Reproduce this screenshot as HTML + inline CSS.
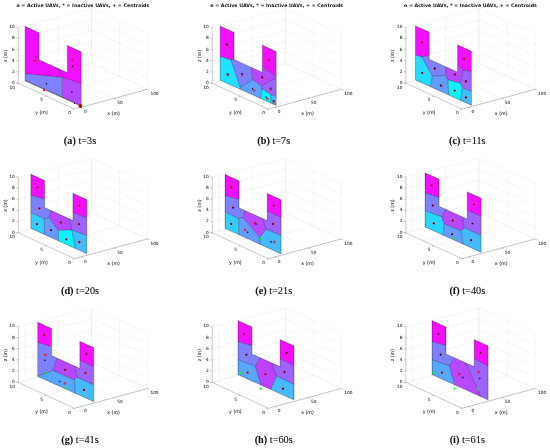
<!DOCTYPE html>
<html><head><meta charset="utf-8"><title>UAV coverage figure</title>
<style>
html,body{margin:0;padding:0;background:#fff;}
body{width:550px;height:448px;overflow:hidden;}
svg{display:block;}
.tk{font-family:"DejaVu Sans","Liberation Sans",sans-serif;fill:#2a2a2a;stroke:#2a2a2a;stroke-width:0.6px;}
.tt{font-family:"DejaVu Sans","Liberation Sans",sans-serif;font-weight:bold;fill:#111;}
.cp{font-family:"Liberation Serif","DejaVu Serif",serif;fill:#111;stroke:#111;stroke-width:0.9px;}
.cp tspan{font-weight:bold;stroke-width:0.6px;}
</style></head><body>
<svg width="550" height="448" viewBox="0 0 550 448">
<rect width="550" height="448" fill="#fff"/>
<g id="p0">
<line x1="18.30" y1="83.20" x2="91.50" y2="63.30" stroke="#ebebeb" stroke-width="0.5"/>
<line x1="91.50" y1="63.30" x2="147.60" y2="89.30" stroke="#ebebeb" stroke-width="0.5"/>
<line x1="18.30" y1="72.06" x2="91.50" y2="52.40" stroke="#ebebeb" stroke-width="0.5"/>
<line x1="91.50" y1="52.40" x2="147.60" y2="78.14" stroke="#ebebeb" stroke-width="0.5"/>
<line x1="18.30" y1="60.92" x2="91.50" y2="41.50" stroke="#ebebeb" stroke-width="0.5"/>
<line x1="91.50" y1="41.50" x2="147.60" y2="66.98" stroke="#ebebeb" stroke-width="0.5"/>
<line x1="18.30" y1="49.78" x2="91.50" y2="30.60" stroke="#ebebeb" stroke-width="0.5"/>
<line x1="91.50" y1="30.60" x2="147.60" y2="55.82" stroke="#ebebeb" stroke-width="0.5"/>
<line x1="18.30" y1="38.64" x2="91.50" y2="19.70" stroke="#ebebeb" stroke-width="0.5"/>
<line x1="91.50" y1="19.70" x2="147.60" y2="44.66" stroke="#ebebeb" stroke-width="0.5"/>
<line x1="18.30" y1="27.50" x2="91.50" y2="8.80" stroke="#ebebeb" stroke-width="0.5"/>
<line x1="91.50" y1="8.80" x2="147.60" y2="33.50" stroke="#ebebeb" stroke-width="0.5"/>
<line x1="24.95" y1="81.39" x2="24.95" y2="25.80" stroke="#ebebeb" stroke-width="0.5"/>
<line x1="24.95" y1="81.39" x2="81.15" y2="107.30" stroke="#ebebeb" stroke-width="0.5"/>
<line x1="58.23" y1="72.35" x2="58.23" y2="17.30" stroke="#ebebeb" stroke-width="0.5"/>
<line x1="58.23" y1="72.35" x2="114.37" y2="98.30" stroke="#ebebeb" stroke-width="0.5"/>
<line x1="91.50" y1="63.30" x2="91.50" y2="8.80" stroke="#ebebeb" stroke-width="0.5"/>
<line x1="91.50" y1="63.30" x2="147.60" y2="89.30" stroke="#ebebeb" stroke-width="0.5"/>
<line x1="147.60" y1="89.30" x2="147.60" y2="33.50" stroke="#ebebeb" stroke-width="0.5"/>
<line x1="74.50" y1="109.10" x2="147.60" y2="89.30" stroke="#ebebeb" stroke-width="0.5"/>
<line x1="119.55" y1="76.30" x2="119.55" y2="21.15" stroke="#ebebeb" stroke-width="0.5"/>
<line x1="46.40" y1="96.15" x2="119.55" y2="76.30" stroke="#ebebeb" stroke-width="0.5"/>
<line x1="91.50" y1="63.30" x2="91.50" y2="8.80" stroke="#ebebeb" stroke-width="0.5"/>
<line x1="18.30" y1="83.20" x2="91.50" y2="63.30" stroke="#ebebeb" stroke-width="0.5"/>
<line x1="18.30" y1="83.20" x2="18.30" y2="27.50" stroke="#949494" stroke-width="0.5"/>
<line x1="18.30" y1="83.20" x2="74.50" y2="109.10" stroke="#949494" stroke-width="0.5"/>
<line x1="74.50" y1="109.10" x2="147.60" y2="89.30" stroke="#949494" stroke-width="0.5"/>
<line x1="18.30" y1="83.20" x2="16.40" y2="82.70" stroke="#949494" stroke-width="0.5"/>
<text transform="translate(14.80,83.95) scale(0.1000,0.1)" font-size="43.0" text-anchor="end" class="tk">0</text>
<line x1="18.30" y1="72.06" x2="16.40" y2="71.56" stroke="#949494" stroke-width="0.5"/>
<text transform="translate(14.80,72.81) scale(0.1000,0.1)" font-size="43.0" text-anchor="end" class="tk">2</text>
<line x1="18.30" y1="60.92" x2="16.40" y2="60.42" stroke="#949494" stroke-width="0.5"/>
<text transform="translate(14.80,61.67) scale(0.1000,0.1)" font-size="43.0" text-anchor="end" class="tk">4</text>
<line x1="18.30" y1="49.78" x2="16.40" y2="49.28" stroke="#949494" stroke-width="0.5"/>
<text transform="translate(14.80,50.53) scale(0.1000,0.1)" font-size="43.0" text-anchor="end" class="tk">6</text>
<line x1="18.30" y1="38.64" x2="16.40" y2="38.14" stroke="#949494" stroke-width="0.5"/>
<text transform="translate(14.80,39.39) scale(0.1000,0.1)" font-size="43.0" text-anchor="end" class="tk">8</text>
<line x1="18.30" y1="27.50" x2="16.40" y2="27.00" stroke="#949494" stroke-width="0.5"/>
<text transform="translate(14.80,28.25) scale(0.1000,0.1)" font-size="43.0" text-anchor="end" class="tk">10</text>
<line x1="18.30" y1="83.20" x2="16.30" y2="83.75" stroke="#949494" stroke-width="0.5"/>
<text transform="translate(14.90,88.50) scale(0.1000,0.1)" font-size="43.0" text-anchor="end" class="tk">10</text>
<line x1="46.40" y1="96.15" x2="44.40" y2="96.70" stroke="#949494" stroke-width="0.5"/>
<text transform="translate(43.00,101.45) scale(0.1000,0.1)" font-size="43.0" text-anchor="end" class="tk">5</text>
<line x1="74.50" y1="109.10" x2="72.50" y2="109.65" stroke="#949494" stroke-width="0.5"/>
<text transform="translate(71.10,114.40) scale(0.1000,0.1)" font-size="43.0" text-anchor="end" class="tk">0</text>
<line x1="81.15" y1="107.30" x2="82.95" y2="108.15" stroke="#949494" stroke-width="0.5"/>
<text transform="translate(83.95,113.20) scale(0.1000,0.1)" font-size="43.0" text-anchor="start" class="tk">0</text>
<line x1="114.37" y1="98.30" x2="116.17" y2="99.15" stroke="#949494" stroke-width="0.5"/>
<text transform="translate(117.17,104.20) scale(0.1000,0.1)" font-size="43.0" text-anchor="start" class="tk">50</text>
<line x1="147.60" y1="89.30" x2="149.40" y2="90.15" stroke="#949494" stroke-width="0.5"/>
<text transform="translate(150.40,95.20) scale(0.1000,0.1)" font-size="43.0" text-anchor="start" class="tk">100</text>
<text transform="translate(41.50,113.90) scale(0.1000,0.1)" font-size="47.5" text-anchor="middle" class="tk">y (m)</text>
<text transform="translate(113.60,115.00) scale(0.1000,0.1)" font-size="47.5" text-anchor="middle" class="tk">x (m)</text>
<text transform="translate(6.60,55.90) rotate(-90) scale(0.1000,0.1)" font-size="47.5" text-anchor="middle" class="tk">z (m)</text>
<text transform="translate(82.85,7.00) scale(0.1000,0.1)" font-size="47.5" text-anchor="middle" class="tt">o = Active UAVs, * = Inactive UAVs, + = Centroids</text>
<clipPath id="u0"><polygon points="25.10,26.30 39.15,32.65 39.15,59.80 67.25,72.50 67.25,45.35 81.30,51.70 81.30,106.00 25.10,80.60"/></clipPath>
<g clip-path="url(#u0)">
<polygon points="25.10,26.30 39.15,32.65 39.15,59.80 58.50,68.55 62.40,77.40 25.10,73.80" fill="rgb(240,15,255)" stroke="#000" stroke-opacity="0.55" stroke-width="0.4" stroke-linejoin="round"/>
<polygon points="58.50,68.55 67.25,72.50 67.25,45.35 81.30,51.70 81.30,83.50 62.40,77.40" fill="rgb(240,15,255)" stroke="#000" stroke-opacity="0.55" stroke-width="0.4" stroke-linejoin="round"/>
<polygon points="25.10,73.80 62.40,77.40 62.40,97.46 25.10,80.60" fill="rgb(126,129,255)" stroke="#000" stroke-opacity="0.55" stroke-width="0.4" stroke-linejoin="round"/>
<polygon points="62.40,77.40 81.30,83.50 81.30,106.00 62.40,97.46" fill="rgb(183,72,255)" stroke="#000" stroke-opacity="0.55" stroke-width="0.4" stroke-linejoin="round"/>
</g>
<polygon points="25.10,26.30 39.15,32.65 39.15,59.80 67.25,72.50 67.25,45.35 81.30,51.70 81.30,106.00 25.10,80.60" fill="none" stroke="#000" stroke-opacity="0.55" stroke-width="0.4" stroke-linejoin="round"/>
<line x1="25.10" y1="80.60" x2="81.30" y2="106.00" stroke="#000" stroke-width="0.6" stroke-opacity="0.6"/>
<circle cx="35.9" cy="56.9" r="0.8" fill="#000"/>
<circle cx="34.7" cy="60.6" r="0.9" fill="none" stroke="#f00" stroke-width="0.9"/>
<circle cx="72.7" cy="66.4" r="0.8" fill="#000"/>
<circle cx="72.4" cy="59.8" r="0.9" fill="none" stroke="#f00" stroke-width="0.9"/>
<circle cx="46.5" cy="83.7" r="0.8" fill="#000"/>
<circle cx="44.0" cy="90.1" r="1.15" fill="#f00"/>
<circle cx="71.9" cy="92.0" r="0.8" fill="#000"/>
<circle cx="74.6" cy="103.5" r="0.55" fill="#000"/>
<circle cx="80.4" cy="105.9" r="1.9" fill="#f00"/><circle cx="80.4" cy="105.9" r="0.85" fill="#500"/>
<text transform="translate(80.00,144.30) scale(0.1060,0.1)" font-size="97.0" text-anchor="middle" class="cp"><tspan>(a)</tspan> t=3s</text>
</g>
<g id="p1">
<line x1="212.20" y1="83.20" x2="285.40" y2="63.30" stroke="#ebebeb" stroke-width="0.5"/>
<line x1="285.40" y1="63.30" x2="341.50" y2="89.30" stroke="#ebebeb" stroke-width="0.5"/>
<line x1="212.20" y1="72.06" x2="285.40" y2="52.40" stroke="#ebebeb" stroke-width="0.5"/>
<line x1="285.40" y1="52.40" x2="341.50" y2="78.14" stroke="#ebebeb" stroke-width="0.5"/>
<line x1="212.20" y1="60.92" x2="285.40" y2="41.50" stroke="#ebebeb" stroke-width="0.5"/>
<line x1="285.40" y1="41.50" x2="341.50" y2="66.98" stroke="#ebebeb" stroke-width="0.5"/>
<line x1="212.20" y1="49.78" x2="285.40" y2="30.60" stroke="#ebebeb" stroke-width="0.5"/>
<line x1="285.40" y1="30.60" x2="341.50" y2="55.82" stroke="#ebebeb" stroke-width="0.5"/>
<line x1="212.20" y1="38.64" x2="285.40" y2="19.70" stroke="#ebebeb" stroke-width="0.5"/>
<line x1="285.40" y1="19.70" x2="341.50" y2="44.66" stroke="#ebebeb" stroke-width="0.5"/>
<line x1="212.20" y1="27.50" x2="285.40" y2="8.80" stroke="#ebebeb" stroke-width="0.5"/>
<line x1="285.40" y1="8.80" x2="341.50" y2="33.50" stroke="#ebebeb" stroke-width="0.5"/>
<line x1="218.85" y1="81.39" x2="218.85" y2="25.80" stroke="#ebebeb" stroke-width="0.5"/>
<line x1="218.85" y1="81.39" x2="275.05" y2="107.30" stroke="#ebebeb" stroke-width="0.5"/>
<line x1="252.13" y1="72.35" x2="252.13" y2="17.30" stroke="#ebebeb" stroke-width="0.5"/>
<line x1="252.13" y1="72.35" x2="308.27" y2="98.30" stroke="#ebebeb" stroke-width="0.5"/>
<line x1="285.40" y1="63.30" x2="285.40" y2="8.80" stroke="#ebebeb" stroke-width="0.5"/>
<line x1="285.40" y1="63.30" x2="341.50" y2="89.30" stroke="#ebebeb" stroke-width="0.5"/>
<line x1="341.50" y1="89.30" x2="341.50" y2="33.50" stroke="#ebebeb" stroke-width="0.5"/>
<line x1="268.40" y1="109.10" x2="341.50" y2="89.30" stroke="#ebebeb" stroke-width="0.5"/>
<line x1="313.45" y1="76.30" x2="313.45" y2="21.15" stroke="#ebebeb" stroke-width="0.5"/>
<line x1="240.30" y1="96.15" x2="313.45" y2="76.30" stroke="#ebebeb" stroke-width="0.5"/>
<line x1="285.40" y1="63.30" x2="285.40" y2="8.80" stroke="#ebebeb" stroke-width="0.5"/>
<line x1="212.20" y1="83.20" x2="285.40" y2="63.30" stroke="#ebebeb" stroke-width="0.5"/>
<line x1="212.20" y1="83.20" x2="212.20" y2="27.50" stroke="#949494" stroke-width="0.5"/>
<line x1="212.20" y1="83.20" x2="268.40" y2="109.10" stroke="#949494" stroke-width="0.5"/>
<line x1="268.40" y1="109.10" x2="341.50" y2="89.30" stroke="#949494" stroke-width="0.5"/>
<line x1="212.20" y1="83.20" x2="210.30" y2="82.70" stroke="#949494" stroke-width="0.5"/>
<text transform="translate(208.70,83.95) scale(0.1000,0.1)" font-size="43.0" text-anchor="end" class="tk">0</text>
<line x1="212.20" y1="72.06" x2="210.30" y2="71.56" stroke="#949494" stroke-width="0.5"/>
<text transform="translate(208.70,72.81) scale(0.1000,0.1)" font-size="43.0" text-anchor="end" class="tk">2</text>
<line x1="212.20" y1="60.92" x2="210.30" y2="60.42" stroke="#949494" stroke-width="0.5"/>
<text transform="translate(208.70,61.67) scale(0.1000,0.1)" font-size="43.0" text-anchor="end" class="tk">4</text>
<line x1="212.20" y1="49.78" x2="210.30" y2="49.28" stroke="#949494" stroke-width="0.5"/>
<text transform="translate(208.70,50.53) scale(0.1000,0.1)" font-size="43.0" text-anchor="end" class="tk">6</text>
<line x1="212.20" y1="38.64" x2="210.30" y2="38.14" stroke="#949494" stroke-width="0.5"/>
<text transform="translate(208.70,39.39) scale(0.1000,0.1)" font-size="43.0" text-anchor="end" class="tk">8</text>
<line x1="212.20" y1="27.50" x2="210.30" y2="27.00" stroke="#949494" stroke-width="0.5"/>
<text transform="translate(208.70,28.25) scale(0.1000,0.1)" font-size="43.0" text-anchor="end" class="tk">10</text>
<line x1="212.20" y1="83.20" x2="210.20" y2="83.75" stroke="#949494" stroke-width="0.5"/>
<text transform="translate(208.80,88.50) scale(0.1000,0.1)" font-size="43.0" text-anchor="end" class="tk">10</text>
<line x1="240.30" y1="96.15" x2="238.30" y2="96.70" stroke="#949494" stroke-width="0.5"/>
<text transform="translate(236.90,101.45) scale(0.1000,0.1)" font-size="43.0" text-anchor="end" class="tk">5</text>
<line x1="268.40" y1="109.10" x2="266.40" y2="109.65" stroke="#949494" stroke-width="0.5"/>
<text transform="translate(265.00,114.40) scale(0.1000,0.1)" font-size="43.0" text-anchor="end" class="tk">0</text>
<line x1="275.05" y1="107.30" x2="276.85" y2="108.15" stroke="#949494" stroke-width="0.5"/>
<text transform="translate(277.85,113.20) scale(0.1000,0.1)" font-size="43.0" text-anchor="start" class="tk">0</text>
<line x1="308.27" y1="98.30" x2="310.07" y2="99.15" stroke="#949494" stroke-width="0.5"/>
<text transform="translate(311.07,104.20) scale(0.1000,0.1)" font-size="43.0" text-anchor="start" class="tk">50</text>
<line x1="341.50" y1="89.30" x2="343.30" y2="90.15" stroke="#949494" stroke-width="0.5"/>
<text transform="translate(344.30,95.20) scale(0.1000,0.1)" font-size="43.0" text-anchor="start" class="tk">100</text>
<text transform="translate(235.40,113.90) scale(0.1000,0.1)" font-size="47.5" text-anchor="middle" class="tk">y (m)</text>
<text transform="translate(307.50,115.00) scale(0.1000,0.1)" font-size="47.5" text-anchor="middle" class="tk">x (m)</text>
<text transform="translate(200.50,55.90) rotate(-90) scale(0.1000,0.1)" font-size="47.5" text-anchor="middle" class="tk">z (m)</text>
<text transform="translate(276.75,7.00) scale(0.1000,0.1)" font-size="47.5" text-anchor="middle" class="tt">o = Active UAVs, * = Inactive UAVs, + = Centroids</text>
<clipPath id="u1"><polygon points="220.10,26.00 234.15,32.35 234.15,59.50 262.25,72.20 262.25,45.05 276.30,51.40 276.30,105.70 220.10,80.30"/></clipPath>
<g clip-path="url(#u1)">
<polygon points="220.10,26.00 234.15,32.35 234.15,59.50 231.20,60.10 220.10,56.60" fill="rgb(240,15,255)" stroke="#000" stroke-opacity="0.55" stroke-width="0.4" stroke-linejoin="round"/>
<polygon points="220.10,56.60 231.20,60.10 240.30,87.20 240.50,89.52 220.10,80.30" fill="rgb(31,224,255)" stroke="#000" stroke-opacity="0.55" stroke-width="0.4" stroke-linejoin="round"/>
<polygon points="231.20,60.10 234.15,59.50 251.20,67.21 252.80,79.50 240.30,87.20" fill="rgb(126,129,255)" stroke="#000" stroke-opacity="0.55" stroke-width="0.4" stroke-linejoin="round"/>
<polygon points="240.30,87.20 252.80,79.50 261.40,85.90 262.10,88.90 260.60,98.61 240.50,89.52" fill="rgb(94,161,255)" stroke="#000" stroke-opacity="0.55" stroke-width="0.4" stroke-linejoin="round"/>
<polygon points="251.20,67.21 262.25,72.20 262.25,66.40 276.30,75.60 276.30,78.00 261.40,85.90 252.80,79.50" fill="rgb(183,72,255)" stroke="#000" stroke-opacity="0.55" stroke-width="0.4" stroke-linejoin="round"/>
<polygon points="262.25,66.40 262.25,45.05 276.30,51.40 276.30,75.60" fill="rgb(240,15,255)" stroke="#000" stroke-opacity="0.55" stroke-width="0.4" stroke-linejoin="round"/>
<polygon points="261.40,85.90 276.30,78.00 276.30,96.10 271.20,95.00 262.10,88.90" fill="rgb(156,99,255)" stroke="#000" stroke-opacity="0.55" stroke-width="0.4" stroke-linejoin="round"/>
<polygon points="262.10,88.90 271.20,95.00 270.60,103.13 260.60,98.61" fill="rgb(13,242,255)" stroke="#000" stroke-opacity="0.55" stroke-width="0.4" stroke-linejoin="round"/>
<polygon points="271.20,95.00 276.30,96.10 276.30,105.70 270.60,103.13" fill="rgb(69,186,255)" stroke="#000" stroke-opacity="0.55" stroke-width="0.4" stroke-linejoin="round"/>
</g>
<polygon points="220.10,26.00 234.15,32.35 234.15,59.50 262.25,72.20 262.25,45.05 276.30,51.40 276.30,105.70 220.10,80.30" fill="none" stroke="#000" stroke-opacity="0.55" stroke-width="0.4" stroke-linejoin="round"/>
<circle cx="226.8" cy="44.9" r="0.95" fill="none" stroke="#f00" stroke-width="0.8"/><circle cx="226.9" cy="44.4" r="0.8" fill="#000"/>
<circle cx="227.70000000000002" cy="74.8" r="0.95" fill="none" stroke="#f00" stroke-width="0.8"/><circle cx="227.9" cy="74.2" r="0.8" fill="#000"/>
<circle cx="242.20000000000002" cy="74.89999999999999" r="0.95" fill="none" stroke="#f00" stroke-width="0.8"/><circle cx="241.9" cy="73.8" r="0.8" fill="#000"/>
<circle cx="262.2" cy="77.7" r="0.95" fill="none" stroke="#f00" stroke-width="0.8"/><circle cx="262.2" cy="77.0" r="0.8" fill="#000"/>
<circle cx="269.0" cy="60.1" r="1.15" fill="#f00"/><circle cx="269.0" cy="60.1" r="0.7" fill="#000"/>
<circle cx="254.29999999999998" cy="90.6" r="0.95" fill="none" stroke="#f00" stroke-width="0.8"/><circle cx="252.6" cy="89.0" r="0.8" fill="#000"/>
<circle cx="270.6" cy="89.60000000000001" r="0.95" fill="none" stroke="#f00" stroke-width="0.8"/><circle cx="270.6" cy="88.2" r="0.8" fill="#000"/>
<circle cx="267.4" cy="98.8" r="0.95" fill="none" stroke="#f00" stroke-width="0.8"/><circle cx="266.0" cy="97.0" r="0.8" fill="#000"/>
<circle cx="273.8" cy="102.10000000000001" r="0.95" fill="none" stroke="#f00" stroke-width="0.8"/><circle cx="273.5" cy="100.7" r="0.8" fill="#000"/>
<text transform="translate(273.70,144.30) scale(0.1060,0.1)" font-size="97.0" text-anchor="middle" class="cp"><tspan>(b)</tspan> t=7s</text>
</g>
<g id="p2">
<line x1="405.90" y1="83.20" x2="479.10" y2="63.30" stroke="#ebebeb" stroke-width="0.5"/>
<line x1="479.10" y1="63.30" x2="535.20" y2="89.30" stroke="#ebebeb" stroke-width="0.5"/>
<line x1="405.90" y1="72.06" x2="479.10" y2="52.40" stroke="#ebebeb" stroke-width="0.5"/>
<line x1="479.10" y1="52.40" x2="535.20" y2="78.14" stroke="#ebebeb" stroke-width="0.5"/>
<line x1="405.90" y1="60.92" x2="479.10" y2="41.50" stroke="#ebebeb" stroke-width="0.5"/>
<line x1="479.10" y1="41.50" x2="535.20" y2="66.98" stroke="#ebebeb" stroke-width="0.5"/>
<line x1="405.90" y1="49.78" x2="479.10" y2="30.60" stroke="#ebebeb" stroke-width="0.5"/>
<line x1="479.10" y1="30.60" x2="535.20" y2="55.82" stroke="#ebebeb" stroke-width="0.5"/>
<line x1="405.90" y1="38.64" x2="479.10" y2="19.70" stroke="#ebebeb" stroke-width="0.5"/>
<line x1="479.10" y1="19.70" x2="535.20" y2="44.66" stroke="#ebebeb" stroke-width="0.5"/>
<line x1="405.90" y1="27.50" x2="479.10" y2="8.80" stroke="#ebebeb" stroke-width="0.5"/>
<line x1="479.10" y1="8.80" x2="535.20" y2="33.50" stroke="#ebebeb" stroke-width="0.5"/>
<line x1="412.55" y1="81.39" x2="412.55" y2="25.80" stroke="#ebebeb" stroke-width="0.5"/>
<line x1="412.55" y1="81.39" x2="468.75" y2="107.30" stroke="#ebebeb" stroke-width="0.5"/>
<line x1="445.83" y1="72.35" x2="445.83" y2="17.30" stroke="#ebebeb" stroke-width="0.5"/>
<line x1="445.83" y1="72.35" x2="501.97" y2="98.30" stroke="#ebebeb" stroke-width="0.5"/>
<line x1="479.10" y1="63.30" x2="479.10" y2="8.80" stroke="#ebebeb" stroke-width="0.5"/>
<line x1="479.10" y1="63.30" x2="535.20" y2="89.30" stroke="#ebebeb" stroke-width="0.5"/>
<line x1="535.20" y1="89.30" x2="535.20" y2="33.50" stroke="#ebebeb" stroke-width="0.5"/>
<line x1="462.10" y1="109.10" x2="535.20" y2="89.30" stroke="#ebebeb" stroke-width="0.5"/>
<line x1="507.15" y1="76.30" x2="507.15" y2="21.15" stroke="#ebebeb" stroke-width="0.5"/>
<line x1="434.00" y1="96.15" x2="507.15" y2="76.30" stroke="#ebebeb" stroke-width="0.5"/>
<line x1="479.10" y1="63.30" x2="479.10" y2="8.80" stroke="#ebebeb" stroke-width="0.5"/>
<line x1="405.90" y1="83.20" x2="479.10" y2="63.30" stroke="#ebebeb" stroke-width="0.5"/>
<line x1="405.90" y1="83.20" x2="405.90" y2="27.50" stroke="#949494" stroke-width="0.5"/>
<line x1="405.90" y1="83.20" x2="462.10" y2="109.10" stroke="#949494" stroke-width="0.5"/>
<line x1="462.10" y1="109.10" x2="535.20" y2="89.30" stroke="#949494" stroke-width="0.5"/>
<line x1="405.90" y1="83.20" x2="404.00" y2="82.70" stroke="#949494" stroke-width="0.5"/>
<text transform="translate(402.40,83.95) scale(0.1000,0.1)" font-size="43.0" text-anchor="end" class="tk">0</text>
<line x1="405.90" y1="72.06" x2="404.00" y2="71.56" stroke="#949494" stroke-width="0.5"/>
<text transform="translate(402.40,72.81) scale(0.1000,0.1)" font-size="43.0" text-anchor="end" class="tk">2</text>
<line x1="405.90" y1="60.92" x2="404.00" y2="60.42" stroke="#949494" stroke-width="0.5"/>
<text transform="translate(402.40,61.67) scale(0.1000,0.1)" font-size="43.0" text-anchor="end" class="tk">4</text>
<line x1="405.90" y1="49.78" x2="404.00" y2="49.28" stroke="#949494" stroke-width="0.5"/>
<text transform="translate(402.40,50.53) scale(0.1000,0.1)" font-size="43.0" text-anchor="end" class="tk">6</text>
<line x1="405.90" y1="38.64" x2="404.00" y2="38.14" stroke="#949494" stroke-width="0.5"/>
<text transform="translate(402.40,39.39) scale(0.1000,0.1)" font-size="43.0" text-anchor="end" class="tk">8</text>
<line x1="405.90" y1="27.50" x2="404.00" y2="27.00" stroke="#949494" stroke-width="0.5"/>
<text transform="translate(402.40,28.25) scale(0.1000,0.1)" font-size="43.0" text-anchor="end" class="tk">10</text>
<line x1="405.90" y1="83.20" x2="403.90" y2="83.75" stroke="#949494" stroke-width="0.5"/>
<text transform="translate(402.50,88.50) scale(0.1000,0.1)" font-size="43.0" text-anchor="end" class="tk">10</text>
<line x1="434.00" y1="96.15" x2="432.00" y2="96.70" stroke="#949494" stroke-width="0.5"/>
<text transform="translate(430.60,101.45) scale(0.1000,0.1)" font-size="43.0" text-anchor="end" class="tk">5</text>
<line x1="462.10" y1="109.10" x2="460.10" y2="109.65" stroke="#949494" stroke-width="0.5"/>
<text transform="translate(458.70,114.40) scale(0.1000,0.1)" font-size="43.0" text-anchor="end" class="tk">0</text>
<line x1="468.75" y1="107.30" x2="470.55" y2="108.15" stroke="#949494" stroke-width="0.5"/>
<text transform="translate(471.55,113.20) scale(0.1000,0.1)" font-size="43.0" text-anchor="start" class="tk">0</text>
<line x1="501.97" y1="98.30" x2="503.77" y2="99.15" stroke="#949494" stroke-width="0.5"/>
<text transform="translate(504.77,104.20) scale(0.1000,0.1)" font-size="43.0" text-anchor="start" class="tk">50</text>
<line x1="535.20" y1="89.30" x2="537.00" y2="90.15" stroke="#949494" stroke-width="0.5"/>
<text transform="translate(538.00,95.20) scale(0.1000,0.1)" font-size="43.0" text-anchor="start" class="tk">100</text>
<text transform="translate(429.10,113.90) scale(0.1000,0.1)" font-size="47.5" text-anchor="middle" class="tk">y (m)</text>
<text transform="translate(501.20,115.00) scale(0.1000,0.1)" font-size="47.5" text-anchor="middle" class="tk">x (m)</text>
<text transform="translate(394.20,55.90) rotate(-90) scale(0.1000,0.1)" font-size="47.5" text-anchor="middle" class="tk">z (m)</text>
<text transform="translate(470.45,7.00) scale(0.1000,0.1)" font-size="47.5" text-anchor="middle" class="tt">o = Active UAVs, * = Inactive UAVs, + = Centroids</text>
<clipPath id="u2"><polygon points="415.30,25.70 429.35,32.05 429.35,59.20 457.45,71.90 457.45,44.75 471.50,51.10 471.50,105.40 415.30,80.00"/></clipPath>
<g clip-path="url(#u2)">
<polygon points="415.30,25.70 429.35,32.05 429.35,55.60 421.90,56.90 415.30,55.00" fill="rgb(240,15,255)" stroke="#000" stroke-opacity="0.55" stroke-width="0.4" stroke-linejoin="round"/>
<polygon points="415.30,55.00 421.90,56.90 432.50,76.20 430.40,86.83 415.30,80.00" fill="rgb(35,220,255)" stroke="#000" stroke-opacity="0.55" stroke-width="0.4" stroke-linejoin="round"/>
<polygon points="421.90,56.90 429.35,55.60 429.35,59.20 445.60,66.55 446.25,75.60 432.50,76.20" fill="rgb(126,129,255)" stroke="#000" stroke-opacity="0.55" stroke-width="0.4" stroke-linejoin="round"/>
<polygon points="432.50,76.20 446.25,75.60 448.10,80.00 448.75,95.12 430.40,86.83" fill="rgb(99,156,255)" stroke="#000" stroke-opacity="0.55" stroke-width="0.4" stroke-linejoin="round"/>
<polygon points="445.60,66.55 457.45,71.90 457.45,65.00 463.75,70.00 460.00,83.10 448.10,80.00 446.25,75.60" fill="rgb(183,72,255)" stroke="#000" stroke-opacity="0.55" stroke-width="0.4" stroke-linejoin="round"/>
<polygon points="457.45,65.00 457.45,44.75 471.50,51.10 471.50,71.90 463.75,70.00" fill="rgb(240,15,255)" stroke="#000" stroke-opacity="0.55" stroke-width="0.4" stroke-linejoin="round"/>
<polygon points="463.75,70.00 471.50,71.90 471.50,91.30 462.50,88.10 460.00,83.10" fill="rgb(156,99,255)" stroke="#000" stroke-opacity="0.55" stroke-width="0.4" stroke-linejoin="round"/>
<polygon points="448.10,80.00 460.00,83.10 462.50,88.10 460.60,100.48 448.75,95.12" fill="rgb(13,242,255)" stroke="#000" stroke-opacity="0.55" stroke-width="0.4" stroke-linejoin="round"/>
<polygon points="462.50,88.10 471.50,91.30 471.50,105.40 460.60,100.48" fill="rgb(69,186,255)" stroke="#000" stroke-opacity="0.55" stroke-width="0.4" stroke-linejoin="round"/>
</g>
<polygon points="415.30,25.70 429.35,32.05 429.35,59.20 457.45,71.90 457.45,44.75 471.50,51.10 471.50,105.40 415.30,80.00" fill="none" stroke="#000" stroke-opacity="0.55" stroke-width="0.4" stroke-linejoin="round"/>
<circle cx="421.8" cy="42.6" r="1.15" fill="#f00"/><circle cx="421.8" cy="42.6" r="0.7" fill="#000"/>
<circle cx="422.2" cy="72.9" r="1.15" fill="#f00"/><circle cx="422.2" cy="72.9" r="0.7" fill="#000"/>
<circle cx="435.0" cy="68.7" r="0.95" fill="none" stroke="#f00" stroke-width="0.8"/><circle cx="434.6" cy="68.3" r="0.8" fill="#000"/>
<circle cx="454.59999999999997" cy="74.7" r="0.95" fill="none" stroke="#f00" stroke-width="0.8"/><circle cx="455.2" cy="74.4" r="0.8" fill="#000"/>
<circle cx="464.0" cy="58.8" r="1.15" fill="#f00"/><circle cx="464.0" cy="58.8" r="0.7" fill="#000"/>
<circle cx="465.9" cy="81.8" r="0.95" fill="none" stroke="#f00" stroke-width="0.8"/><circle cx="465.9" cy="81.0" r="0.8" fill="#000"/>
<circle cx="441.1" cy="85.8" r="0.95" fill="none" stroke="#f00" stroke-width="0.8"/><circle cx="440.6" cy="85.3" r="0.8" fill="#000"/>
<circle cx="454.7" cy="90.6" r="1.15" fill="#f00"/><circle cx="454.7" cy="90.6" r="0.7" fill="#000"/>
<circle cx="465.9" cy="97.5" r="1.15" fill="#f00"/><circle cx="465.9" cy="97.5" r="0.7" fill="#000"/>
<text transform="translate(467.30,144.30) scale(0.1060,0.1)" font-size="97.0" text-anchor="middle" class="cp"><tspan>(c)</tspan> t=11s</text>
</g>
<g id="p3">
<line x1="18.30" y1="232.80" x2="91.50" y2="212.90" stroke="#ebebeb" stroke-width="0.5"/>
<line x1="91.50" y1="212.90" x2="147.60" y2="238.90" stroke="#ebebeb" stroke-width="0.5"/>
<line x1="18.30" y1="221.66" x2="91.50" y2="202.00" stroke="#ebebeb" stroke-width="0.5"/>
<line x1="91.50" y1="202.00" x2="147.60" y2="227.74" stroke="#ebebeb" stroke-width="0.5"/>
<line x1="18.30" y1="210.52" x2="91.50" y2="191.10" stroke="#ebebeb" stroke-width="0.5"/>
<line x1="91.50" y1="191.10" x2="147.60" y2="216.58" stroke="#ebebeb" stroke-width="0.5"/>
<line x1="18.30" y1="199.38" x2="91.50" y2="180.20" stroke="#ebebeb" stroke-width="0.5"/>
<line x1="91.50" y1="180.20" x2="147.60" y2="205.42" stroke="#ebebeb" stroke-width="0.5"/>
<line x1="18.30" y1="188.24" x2="91.50" y2="169.30" stroke="#ebebeb" stroke-width="0.5"/>
<line x1="91.50" y1="169.30" x2="147.60" y2="194.26" stroke="#ebebeb" stroke-width="0.5"/>
<line x1="18.30" y1="177.10" x2="91.50" y2="158.40" stroke="#ebebeb" stroke-width="0.5"/>
<line x1="91.50" y1="158.40" x2="147.60" y2="183.10" stroke="#ebebeb" stroke-width="0.5"/>
<line x1="24.95" y1="230.99" x2="24.95" y2="175.40" stroke="#ebebeb" stroke-width="0.5"/>
<line x1="24.95" y1="230.99" x2="81.15" y2="256.90" stroke="#ebebeb" stroke-width="0.5"/>
<line x1="58.23" y1="221.95" x2="58.23" y2="166.90" stroke="#ebebeb" stroke-width="0.5"/>
<line x1="58.23" y1="221.95" x2="114.37" y2="247.90" stroke="#ebebeb" stroke-width="0.5"/>
<line x1="91.50" y1="212.90" x2="91.50" y2="158.40" stroke="#ebebeb" stroke-width="0.5"/>
<line x1="91.50" y1="212.90" x2="147.60" y2="238.90" stroke="#ebebeb" stroke-width="0.5"/>
<line x1="147.60" y1="238.90" x2="147.60" y2="183.10" stroke="#ebebeb" stroke-width="0.5"/>
<line x1="74.50" y1="258.70" x2="147.60" y2="238.90" stroke="#ebebeb" stroke-width="0.5"/>
<line x1="119.55" y1="225.90" x2="119.55" y2="170.75" stroke="#ebebeb" stroke-width="0.5"/>
<line x1="46.40" y1="245.75" x2="119.55" y2="225.90" stroke="#ebebeb" stroke-width="0.5"/>
<line x1="91.50" y1="212.90" x2="91.50" y2="158.40" stroke="#ebebeb" stroke-width="0.5"/>
<line x1="18.30" y1="232.80" x2="91.50" y2="212.90" stroke="#ebebeb" stroke-width="0.5"/>
<line x1="18.30" y1="232.80" x2="18.30" y2="177.10" stroke="#949494" stroke-width="0.5"/>
<line x1="18.30" y1="232.80" x2="74.50" y2="258.70" stroke="#949494" stroke-width="0.5"/>
<line x1="74.50" y1="258.70" x2="147.60" y2="238.90" stroke="#949494" stroke-width="0.5"/>
<line x1="18.30" y1="232.80" x2="16.40" y2="232.30" stroke="#949494" stroke-width="0.5"/>
<text transform="translate(14.80,233.55) scale(0.1000,0.1)" font-size="43.0" text-anchor="end" class="tk">0</text>
<line x1="18.30" y1="221.66" x2="16.40" y2="221.16" stroke="#949494" stroke-width="0.5"/>
<text transform="translate(14.80,222.41) scale(0.1000,0.1)" font-size="43.0" text-anchor="end" class="tk">2</text>
<line x1="18.30" y1="210.52" x2="16.40" y2="210.02" stroke="#949494" stroke-width="0.5"/>
<text transform="translate(14.80,211.27) scale(0.1000,0.1)" font-size="43.0" text-anchor="end" class="tk">4</text>
<line x1="18.30" y1="199.38" x2="16.40" y2="198.88" stroke="#949494" stroke-width="0.5"/>
<text transform="translate(14.80,200.13) scale(0.1000,0.1)" font-size="43.0" text-anchor="end" class="tk">6</text>
<line x1="18.30" y1="188.24" x2="16.40" y2="187.74" stroke="#949494" stroke-width="0.5"/>
<text transform="translate(14.80,188.99) scale(0.1000,0.1)" font-size="43.0" text-anchor="end" class="tk">8</text>
<line x1="18.30" y1="177.10" x2="16.40" y2="176.60" stroke="#949494" stroke-width="0.5"/>
<text transform="translate(14.80,177.85) scale(0.1000,0.1)" font-size="43.0" text-anchor="end" class="tk">10</text>
<line x1="18.30" y1="232.80" x2="16.30" y2="233.35" stroke="#949494" stroke-width="0.5"/>
<text transform="translate(14.90,238.10) scale(0.1000,0.1)" font-size="43.0" text-anchor="end" class="tk">10</text>
<line x1="46.40" y1="245.75" x2="44.40" y2="246.30" stroke="#949494" stroke-width="0.5"/>
<text transform="translate(43.00,251.05) scale(0.1000,0.1)" font-size="43.0" text-anchor="end" class="tk">5</text>
<line x1="74.50" y1="258.70" x2="72.50" y2="259.25" stroke="#949494" stroke-width="0.5"/>
<text transform="translate(71.10,264.00) scale(0.1000,0.1)" font-size="43.0" text-anchor="end" class="tk">0</text>
<line x1="81.15" y1="256.90" x2="82.95" y2="257.75" stroke="#949494" stroke-width="0.5"/>
<text transform="translate(83.95,262.80) scale(0.1000,0.1)" font-size="43.0" text-anchor="start" class="tk">0</text>
<line x1="114.37" y1="247.90" x2="116.17" y2="248.75" stroke="#949494" stroke-width="0.5"/>
<text transform="translate(117.17,253.80) scale(0.1000,0.1)" font-size="43.0" text-anchor="start" class="tk">50</text>
<line x1="147.60" y1="238.90" x2="149.40" y2="239.75" stroke="#949494" stroke-width="0.5"/>
<text transform="translate(150.40,244.80) scale(0.1000,0.1)" font-size="43.0" text-anchor="start" class="tk">100</text>
<text transform="translate(41.50,263.50) scale(0.1000,0.1)" font-size="47.5" text-anchor="middle" class="tk">y (m)</text>
<text transform="translate(113.60,264.60) scale(0.1000,0.1)" font-size="47.5" text-anchor="middle" class="tk">x (m)</text>
<text transform="translate(6.60,205.50) rotate(-90) scale(0.1000,0.1)" font-size="47.5" text-anchor="middle" class="tk">z (m)</text>
<clipPath id="u3"><polygon points="30.70,174.10 44.75,180.45 44.75,207.60 72.85,220.30 72.85,193.15 86.90,199.50 86.90,253.80 30.70,228.40"/></clipPath>
<g clip-path="url(#u3)">
<polygon points="30.70,174.10 44.75,180.45 44.75,199.30 30.70,195.30" fill="rgb(240,15,255)" stroke="#000" stroke-opacity="0.55" stroke-width="0.4" stroke-linejoin="round"/>
<polygon points="30.70,195.30 44.75,199.30 44.75,207.60 51.25,210.54 49.40,217.50 44.40,219.00 30.70,212.60" fill="rgb(126,129,255)" stroke="#000" stroke-opacity="0.55" stroke-width="0.4" stroke-linejoin="round"/>
<polygon points="30.70,212.60 44.40,219.00 44.40,234.59 30.70,228.40" fill="rgb(49,206,255)" stroke="#000" stroke-opacity="0.55" stroke-width="0.4" stroke-linejoin="round"/>
<polygon points="44.40,219.00 49.40,217.50 58.50,230.60 58.50,240.97 44.40,234.59" fill="rgb(104,151,255)" stroke="#000" stroke-opacity="0.55" stroke-width="0.4" stroke-linejoin="round"/>
<polygon points="51.25,210.54 70.00,219.01 71.90,230.00 58.50,230.60 49.40,217.50" fill="rgb(183,72,255)" stroke="#000" stroke-opacity="0.55" stroke-width="0.4" stroke-linejoin="round"/>
<polygon points="70.00,219.01 72.85,220.30 72.85,212.40 86.90,217.60 86.90,235.60 71.90,230.00" fill="rgb(156,99,255)" stroke="#000" stroke-opacity="0.55" stroke-width="0.4" stroke-linejoin="round"/>
<polygon points="72.85,212.40 72.85,193.15 86.90,199.50 86.90,217.60" fill="rgb(240,15,255)" stroke="#000" stroke-opacity="0.55" stroke-width="0.4" stroke-linejoin="round"/>
<polygon points="58.50,230.60 71.90,230.00 75.60,248.69 58.50,240.97" fill="rgb(13,242,255)" stroke="#000" stroke-opacity="0.55" stroke-width="0.4" stroke-linejoin="round"/>
<polygon points="71.90,230.00 86.90,235.60 86.90,253.80 75.60,248.69" fill="rgb(69,186,255)" stroke="#000" stroke-opacity="0.55" stroke-width="0.4" stroke-linejoin="round"/>
</g>
<polygon points="30.70,174.10 44.75,180.45 44.75,207.60 72.85,220.30 72.85,193.15 86.90,199.50 86.90,253.80 30.70,228.40" fill="none" stroke="#000" stroke-opacity="0.55" stroke-width="0.4" stroke-linejoin="round"/>
<circle cx="37.3" cy="187.5" r="1.15" fill="#f00"/><circle cx="37.3" cy="187.5" r="0.7" fill="#000"/>
<circle cx="39.4" cy="208.4" r="1.15" fill="#f00"/><circle cx="39.4" cy="208.4" r="0.7" fill="#000"/>
<circle cx="36.9" cy="224.1" r="1.15" fill="#f00"/><circle cx="36.9" cy="224.1" r="0.7" fill="#000"/>
<circle cx="51.0" cy="230.2" r="1.15" fill="#f00"/><circle cx="51.0" cy="230.2" r="0.7" fill="#000"/>
<circle cx="61.0" cy="222.5" r="1.15" fill="#f00"/><circle cx="61.0" cy="222.5" r="0.7" fill="#000"/>
<circle cx="66.2" cy="239.4" r="1.15" fill="#f00"/><circle cx="66.2" cy="239.4" r="0.7" fill="#000"/>
<circle cx="79.0" cy="224.1" r="1.15" fill="#f00"/><circle cx="79.0" cy="224.1" r="0.7" fill="#000"/>
<circle cx="79.4" cy="205.6" r="1.15" fill="#f00"/><circle cx="79.4" cy="205.6" r="0.7" fill="#000"/>
<circle cx="79.4" cy="242.2" r="1.15" fill="#f00"/><circle cx="79.4" cy="242.2" r="0.7" fill="#000"/>
<text transform="translate(80.00,294.20) scale(0.1060,0.1)" font-size="97.0" text-anchor="middle" class="cp"><tspan>(d)</tspan> t=20s</text>
</g>
<g id="p4">
<line x1="212.20" y1="232.80" x2="285.40" y2="212.90" stroke="#ebebeb" stroke-width="0.5"/>
<line x1="285.40" y1="212.90" x2="341.50" y2="238.90" stroke="#ebebeb" stroke-width="0.5"/>
<line x1="212.20" y1="221.66" x2="285.40" y2="202.00" stroke="#ebebeb" stroke-width="0.5"/>
<line x1="285.40" y1="202.00" x2="341.50" y2="227.74" stroke="#ebebeb" stroke-width="0.5"/>
<line x1="212.20" y1="210.52" x2="285.40" y2="191.10" stroke="#ebebeb" stroke-width="0.5"/>
<line x1="285.40" y1="191.10" x2="341.50" y2="216.58" stroke="#ebebeb" stroke-width="0.5"/>
<line x1="212.20" y1="199.38" x2="285.40" y2="180.20" stroke="#ebebeb" stroke-width="0.5"/>
<line x1="285.40" y1="180.20" x2="341.50" y2="205.42" stroke="#ebebeb" stroke-width="0.5"/>
<line x1="212.20" y1="188.24" x2="285.40" y2="169.30" stroke="#ebebeb" stroke-width="0.5"/>
<line x1="285.40" y1="169.30" x2="341.50" y2="194.26" stroke="#ebebeb" stroke-width="0.5"/>
<line x1="212.20" y1="177.10" x2="285.40" y2="158.40" stroke="#ebebeb" stroke-width="0.5"/>
<line x1="285.40" y1="158.40" x2="341.50" y2="183.10" stroke="#ebebeb" stroke-width="0.5"/>
<line x1="218.85" y1="230.99" x2="218.85" y2="175.40" stroke="#ebebeb" stroke-width="0.5"/>
<line x1="218.85" y1="230.99" x2="275.05" y2="256.90" stroke="#ebebeb" stroke-width="0.5"/>
<line x1="252.13" y1="221.95" x2="252.13" y2="166.90" stroke="#ebebeb" stroke-width="0.5"/>
<line x1="252.13" y1="221.95" x2="308.27" y2="247.90" stroke="#ebebeb" stroke-width="0.5"/>
<line x1="285.40" y1="212.90" x2="285.40" y2="158.40" stroke="#ebebeb" stroke-width="0.5"/>
<line x1="285.40" y1="212.90" x2="341.50" y2="238.90" stroke="#ebebeb" stroke-width="0.5"/>
<line x1="341.50" y1="238.90" x2="341.50" y2="183.10" stroke="#ebebeb" stroke-width="0.5"/>
<line x1="268.40" y1="258.70" x2="341.50" y2="238.90" stroke="#ebebeb" stroke-width="0.5"/>
<line x1="313.45" y1="225.90" x2="313.45" y2="170.75" stroke="#ebebeb" stroke-width="0.5"/>
<line x1="240.30" y1="245.75" x2="313.45" y2="225.90" stroke="#ebebeb" stroke-width="0.5"/>
<line x1="285.40" y1="212.90" x2="285.40" y2="158.40" stroke="#ebebeb" stroke-width="0.5"/>
<line x1="212.20" y1="232.80" x2="285.40" y2="212.90" stroke="#ebebeb" stroke-width="0.5"/>
<line x1="212.20" y1="232.80" x2="212.20" y2="177.10" stroke="#949494" stroke-width="0.5"/>
<line x1="212.20" y1="232.80" x2="268.40" y2="258.70" stroke="#949494" stroke-width="0.5"/>
<line x1="268.40" y1="258.70" x2="341.50" y2="238.90" stroke="#949494" stroke-width="0.5"/>
<line x1="212.20" y1="232.80" x2="210.30" y2="232.30" stroke="#949494" stroke-width="0.5"/>
<text transform="translate(208.70,233.55) scale(0.1000,0.1)" font-size="43.0" text-anchor="end" class="tk">0</text>
<line x1="212.20" y1="221.66" x2="210.30" y2="221.16" stroke="#949494" stroke-width="0.5"/>
<text transform="translate(208.70,222.41) scale(0.1000,0.1)" font-size="43.0" text-anchor="end" class="tk">2</text>
<line x1="212.20" y1="210.52" x2="210.30" y2="210.02" stroke="#949494" stroke-width="0.5"/>
<text transform="translate(208.70,211.27) scale(0.1000,0.1)" font-size="43.0" text-anchor="end" class="tk">4</text>
<line x1="212.20" y1="199.38" x2="210.30" y2="198.88" stroke="#949494" stroke-width="0.5"/>
<text transform="translate(208.70,200.13) scale(0.1000,0.1)" font-size="43.0" text-anchor="end" class="tk">6</text>
<line x1="212.20" y1="188.24" x2="210.30" y2="187.74" stroke="#949494" stroke-width="0.5"/>
<text transform="translate(208.70,188.99) scale(0.1000,0.1)" font-size="43.0" text-anchor="end" class="tk">8</text>
<line x1="212.20" y1="177.10" x2="210.30" y2="176.60" stroke="#949494" stroke-width="0.5"/>
<text transform="translate(208.70,177.85) scale(0.1000,0.1)" font-size="43.0" text-anchor="end" class="tk">10</text>
<line x1="212.20" y1="232.80" x2="210.20" y2="233.35" stroke="#949494" stroke-width="0.5"/>
<text transform="translate(208.80,238.10) scale(0.1000,0.1)" font-size="43.0" text-anchor="end" class="tk">10</text>
<line x1="240.30" y1="245.75" x2="238.30" y2="246.30" stroke="#949494" stroke-width="0.5"/>
<text transform="translate(236.90,251.05) scale(0.1000,0.1)" font-size="43.0" text-anchor="end" class="tk">5</text>
<line x1="268.40" y1="258.70" x2="266.40" y2="259.25" stroke="#949494" stroke-width="0.5"/>
<text transform="translate(265.00,264.00) scale(0.1000,0.1)" font-size="43.0" text-anchor="end" class="tk">0</text>
<line x1="275.05" y1="256.90" x2="276.85" y2="257.75" stroke="#949494" stroke-width="0.5"/>
<text transform="translate(277.85,262.80) scale(0.1000,0.1)" font-size="43.0" text-anchor="start" class="tk">0</text>
<line x1="308.27" y1="247.90" x2="310.07" y2="248.75" stroke="#949494" stroke-width="0.5"/>
<text transform="translate(311.07,253.80) scale(0.1000,0.1)" font-size="43.0" text-anchor="start" class="tk">50</text>
<line x1="341.50" y1="238.90" x2="343.30" y2="239.75" stroke="#949494" stroke-width="0.5"/>
<text transform="translate(344.30,244.80) scale(0.1000,0.1)" font-size="43.0" text-anchor="start" class="tk">100</text>
<text transform="translate(235.40,263.50) scale(0.1000,0.1)" font-size="47.5" text-anchor="middle" class="tk">y (m)</text>
<text transform="translate(307.50,264.60) scale(0.1000,0.1)" font-size="47.5" text-anchor="middle" class="tk">x (m)</text>
<text transform="translate(200.50,205.50) rotate(-90) scale(0.1000,0.1)" font-size="47.5" text-anchor="middle" class="tk">z (m)</text>
<clipPath id="u4"><polygon points="225.00,174.30 239.05,180.65 239.05,207.80 267.15,220.50 267.15,193.35 281.20,199.70 281.20,254.00 225.00,228.60"/></clipPath>
<g clip-path="url(#u4)">
<polygon points="225.00,174.30 239.05,180.65 239.05,199.50 225.00,195.60" fill="rgb(240,15,255)" stroke="#000" stroke-opacity="0.55" stroke-width="0.4" stroke-linejoin="round"/>
<polygon points="225.00,195.60 239.05,199.50 239.05,207.80 245.00,210.49 243.10,217.40 238.75,218.75 225.00,211.90" fill="rgb(126,129,255)" stroke="#000" stroke-opacity="0.55" stroke-width="0.4" stroke-linejoin="round"/>
<polygon points="225.00,211.90 238.75,218.75 238.75,234.82 225.00,228.60" fill="rgb(49,206,255)" stroke="#000" stroke-opacity="0.55" stroke-width="0.4" stroke-linejoin="round"/>
<polygon points="238.75,218.75 243.10,217.40 260.00,237.50 260.25,244.53 238.75,234.82" fill="rgb(99,156,255)" stroke="#000" stroke-opacity="0.55" stroke-width="0.4" stroke-linejoin="round"/>
<polygon points="245.00,210.49 263.10,218.67 266.00,229.40 260.00,237.50 243.10,217.40" fill="rgb(183,72,255)" stroke="#000" stroke-opacity="0.55" stroke-width="0.4" stroke-linejoin="round"/>
<polygon points="263.10,218.67 267.15,220.50 267.15,210.80 281.20,217.40 281.20,235.60 266.00,229.40" fill="rgb(156,99,255)" stroke="#000" stroke-opacity="0.55" stroke-width="0.4" stroke-linejoin="round"/>
<polygon points="267.15,210.80 267.15,193.35 281.20,199.70 281.20,217.40" fill="rgb(240,15,255)" stroke="#000" stroke-opacity="0.55" stroke-width="0.4" stroke-linejoin="round"/>
<polygon points="266.00,229.40 281.20,235.60 281.20,254.00 260.25,244.53 260.00,237.50" fill="rgb(69,186,255)" stroke="#000" stroke-opacity="0.55" stroke-width="0.4" stroke-linejoin="round"/>
</g>
<polygon points="225.00,174.30 239.05,180.65 239.05,207.80 267.15,220.50 267.15,193.35 281.20,199.70 281.20,254.00 225.00,228.60" fill="none" stroke="#000" stroke-opacity="0.55" stroke-width="0.4" stroke-linejoin="round"/>
<circle cx="231.5" cy="187.5" r="1.15" fill="#f00"/><circle cx="231.5" cy="187.5" r="0.7" fill="#000"/>
<circle cx="233.1" cy="207.7" r="1.15" fill="#f00"/><circle cx="233.1" cy="207.7" r="0.7" fill="#000"/>
<circle cx="231.2" cy="224.0" r="1.15" fill="#f00"/><circle cx="231.2" cy="224.0" r="0.7" fill="#000"/>
<circle cx="255.0" cy="222.9" r="0.9" fill="none" stroke="#f00" stroke-width="0.9"/>
<circle cx="256.0" cy="224.0" r="0.8" fill="#000"/>
<circle cx="245.0" cy="230.0" r="0.9" fill="none" stroke="#f00" stroke-width="0.9"/>
<circle cx="247.7" cy="232.2" r="0.8" fill="#000"/>
<circle cx="273.1" cy="224.0" r="1.15" fill="#f00"/><circle cx="273.1" cy="224.0" r="0.7" fill="#000"/>
<circle cx="273.7" cy="205.6" r="1.15" fill="#f00"/><circle cx="273.7" cy="205.6" r="0.7" fill="#000"/>
<circle cx="274.4" cy="241.9" r="0.9" fill="none" stroke="#f00" stroke-width="0.9"/>
<circle cx="271.0" cy="241.9" r="0.8" fill="#000"/>
<circle cx="260.25" cy="239.0" r="1.05" fill="#0f0"/>
<text transform="translate(273.70,294.20) scale(0.1060,0.1)" font-size="97.0" text-anchor="middle" class="cp"><tspan>(e)</tspan> t=21s</text>
</g>
<g id="p5">
<line x1="405.90" y1="232.80" x2="479.10" y2="212.90" stroke="#ebebeb" stroke-width="0.5"/>
<line x1="479.10" y1="212.90" x2="535.20" y2="238.90" stroke="#ebebeb" stroke-width="0.5"/>
<line x1="405.90" y1="221.66" x2="479.10" y2="202.00" stroke="#ebebeb" stroke-width="0.5"/>
<line x1="479.10" y1="202.00" x2="535.20" y2="227.74" stroke="#ebebeb" stroke-width="0.5"/>
<line x1="405.90" y1="210.52" x2="479.10" y2="191.10" stroke="#ebebeb" stroke-width="0.5"/>
<line x1="479.10" y1="191.10" x2="535.20" y2="216.58" stroke="#ebebeb" stroke-width="0.5"/>
<line x1="405.90" y1="199.38" x2="479.10" y2="180.20" stroke="#ebebeb" stroke-width="0.5"/>
<line x1="479.10" y1="180.20" x2="535.20" y2="205.42" stroke="#ebebeb" stroke-width="0.5"/>
<line x1="405.90" y1="188.24" x2="479.10" y2="169.30" stroke="#ebebeb" stroke-width="0.5"/>
<line x1="479.10" y1="169.30" x2="535.20" y2="194.26" stroke="#ebebeb" stroke-width="0.5"/>
<line x1="405.90" y1="177.10" x2="479.10" y2="158.40" stroke="#ebebeb" stroke-width="0.5"/>
<line x1="479.10" y1="158.40" x2="535.20" y2="183.10" stroke="#ebebeb" stroke-width="0.5"/>
<line x1="412.55" y1="230.99" x2="412.55" y2="175.40" stroke="#ebebeb" stroke-width="0.5"/>
<line x1="412.55" y1="230.99" x2="468.75" y2="256.90" stroke="#ebebeb" stroke-width="0.5"/>
<line x1="445.83" y1="221.95" x2="445.83" y2="166.90" stroke="#ebebeb" stroke-width="0.5"/>
<line x1="445.83" y1="221.95" x2="501.97" y2="247.90" stroke="#ebebeb" stroke-width="0.5"/>
<line x1="479.10" y1="212.90" x2="479.10" y2="158.40" stroke="#ebebeb" stroke-width="0.5"/>
<line x1="479.10" y1="212.90" x2="535.20" y2="238.90" stroke="#ebebeb" stroke-width="0.5"/>
<line x1="535.20" y1="238.90" x2="535.20" y2="183.10" stroke="#ebebeb" stroke-width="0.5"/>
<line x1="462.10" y1="258.70" x2="535.20" y2="238.90" stroke="#ebebeb" stroke-width="0.5"/>
<line x1="507.15" y1="225.90" x2="507.15" y2="170.75" stroke="#ebebeb" stroke-width="0.5"/>
<line x1="434.00" y1="245.75" x2="507.15" y2="225.90" stroke="#ebebeb" stroke-width="0.5"/>
<line x1="479.10" y1="212.90" x2="479.10" y2="158.40" stroke="#ebebeb" stroke-width="0.5"/>
<line x1="405.90" y1="232.80" x2="479.10" y2="212.90" stroke="#ebebeb" stroke-width="0.5"/>
<line x1="405.90" y1="232.80" x2="405.90" y2="177.10" stroke="#949494" stroke-width="0.5"/>
<line x1="405.90" y1="232.80" x2="462.10" y2="258.70" stroke="#949494" stroke-width="0.5"/>
<line x1="462.10" y1="258.70" x2="535.20" y2="238.90" stroke="#949494" stroke-width="0.5"/>
<line x1="405.90" y1="232.80" x2="404.00" y2="232.30" stroke="#949494" stroke-width="0.5"/>
<text transform="translate(402.40,233.55) scale(0.1000,0.1)" font-size="43.0" text-anchor="end" class="tk">0</text>
<line x1="405.90" y1="221.66" x2="404.00" y2="221.16" stroke="#949494" stroke-width="0.5"/>
<text transform="translate(402.40,222.41) scale(0.1000,0.1)" font-size="43.0" text-anchor="end" class="tk">2</text>
<line x1="405.90" y1="210.52" x2="404.00" y2="210.02" stroke="#949494" stroke-width="0.5"/>
<text transform="translate(402.40,211.27) scale(0.1000,0.1)" font-size="43.0" text-anchor="end" class="tk">4</text>
<line x1="405.90" y1="199.38" x2="404.00" y2="198.88" stroke="#949494" stroke-width="0.5"/>
<text transform="translate(402.40,200.13) scale(0.1000,0.1)" font-size="43.0" text-anchor="end" class="tk">6</text>
<line x1="405.90" y1="188.24" x2="404.00" y2="187.74" stroke="#949494" stroke-width="0.5"/>
<text transform="translate(402.40,188.99) scale(0.1000,0.1)" font-size="43.0" text-anchor="end" class="tk">8</text>
<line x1="405.90" y1="177.10" x2="404.00" y2="176.60" stroke="#949494" stroke-width="0.5"/>
<text transform="translate(402.40,177.85) scale(0.1000,0.1)" font-size="43.0" text-anchor="end" class="tk">10</text>
<line x1="405.90" y1="232.80" x2="403.90" y2="233.35" stroke="#949494" stroke-width="0.5"/>
<text transform="translate(402.50,238.10) scale(0.1000,0.1)" font-size="43.0" text-anchor="end" class="tk">10</text>
<line x1="434.00" y1="245.75" x2="432.00" y2="246.30" stroke="#949494" stroke-width="0.5"/>
<text transform="translate(430.60,251.05) scale(0.1000,0.1)" font-size="43.0" text-anchor="end" class="tk">5</text>
<line x1="462.10" y1="258.70" x2="460.10" y2="259.25" stroke="#949494" stroke-width="0.5"/>
<text transform="translate(458.70,264.00) scale(0.1000,0.1)" font-size="43.0" text-anchor="end" class="tk">0</text>
<line x1="468.75" y1="256.90" x2="470.55" y2="257.75" stroke="#949494" stroke-width="0.5"/>
<text transform="translate(471.55,262.80) scale(0.1000,0.1)" font-size="43.0" text-anchor="start" class="tk">0</text>
<line x1="501.97" y1="247.90" x2="503.77" y2="248.75" stroke="#949494" stroke-width="0.5"/>
<text transform="translate(504.77,253.80) scale(0.1000,0.1)" font-size="43.0" text-anchor="start" class="tk">50</text>
<line x1="535.20" y1="238.90" x2="537.00" y2="239.75" stroke="#949494" stroke-width="0.5"/>
<text transform="translate(538.00,244.80) scale(0.1000,0.1)" font-size="43.0" text-anchor="start" class="tk">100</text>
<text transform="translate(429.10,263.50) scale(0.1000,0.1)" font-size="47.5" text-anchor="middle" class="tk">y (m)</text>
<text transform="translate(501.20,264.60) scale(0.1000,0.1)" font-size="47.5" text-anchor="middle" class="tk">x (m)</text>
<text transform="translate(394.20,205.50) rotate(-90) scale(0.1000,0.1)" font-size="47.5" text-anchor="middle" class="tk">z (m)</text>
<clipPath id="u5"><polygon points="425.00,172.70 439.05,179.05 439.05,206.20 467.15,218.90 467.15,191.75 481.20,198.10 481.20,252.40 425.00,227.00"/></clipPath>
<g clip-path="url(#u5)">
<polygon points="425.00,172.70 439.05,179.05 439.05,197.80 425.00,192.70" fill="rgb(240,15,255)" stroke="#000" stroke-opacity="0.55" stroke-width="0.4" stroke-linejoin="round"/>
<polygon points="425.00,192.70 439.05,197.80 439.05,206.20 445.60,209.16 441.90,216.70 425.00,211.10" fill="rgb(126,129,255)" stroke="#000" stroke-opacity="0.55" stroke-width="0.4" stroke-linejoin="round"/>
<polygon points="425.00,211.10 441.90,216.70 444.30,224.10 443.10,235.18 425.00,227.00" fill="rgb(40,215,255)" stroke="#000" stroke-opacity="0.55" stroke-width="0.4" stroke-linejoin="round"/>
<polygon points="445.60,209.16 462.50,216.80 464.40,228.00 461.25,230.75 444.30,224.10 441.90,216.70" fill="rgb(183,72,255)" stroke="#000" stroke-opacity="0.55" stroke-width="0.4" stroke-linejoin="round"/>
<polygon points="444.30,224.10 461.25,230.75 463.10,244.22 443.10,235.18" fill="rgb(99,156,255)" stroke="#000" stroke-opacity="0.55" stroke-width="0.4" stroke-linejoin="round"/>
<polygon points="462.50,216.80 467.15,218.90 467.15,210.00 481.20,216.10 481.20,235.50 464.40,228.00" fill="rgb(156,99,255)" stroke="#000" stroke-opacity="0.55" stroke-width="0.4" stroke-linejoin="round"/>
<polygon points="467.15,210.00 467.15,191.75 481.20,198.10 481.20,216.10" fill="rgb(240,15,255)" stroke="#000" stroke-opacity="0.55" stroke-width="0.4" stroke-linejoin="round"/>
<polygon points="464.40,228.00 481.20,235.50 481.20,252.40 463.10,244.22 461.25,230.75" fill="rgb(69,186,255)" stroke="#000" stroke-opacity="0.55" stroke-width="0.4" stroke-linejoin="round"/>
</g>
<polygon points="425.00,172.70 439.05,179.05 439.05,206.20 467.15,218.90 467.15,191.75 481.20,198.10 481.20,252.40 425.00,227.00" fill="none" stroke="#000" stroke-opacity="0.55" stroke-width="0.4" stroke-linejoin="round"/>
<circle cx="431.5" cy="185.5" r="1.15" fill="#f00"/><circle cx="431.5" cy="185.5" r="0.7" fill="#000"/>
<circle cx="432.7" cy="205.5" r="1.15" fill="#f00"/><circle cx="432.7" cy="205.5" r="0.7" fill="#000"/>
<circle cx="433.7" cy="223.4" r="1.15" fill="#f00"/><circle cx="433.7" cy="223.4" r="0.7" fill="#000"/>
<circle cx="452.7" cy="220.5" r="1.15" fill="#f00"/><circle cx="452.7" cy="220.5" r="0.7" fill="#000"/>
<circle cx="452.2" cy="234.2" r="1.15" fill="#f00"/><circle cx="452.2" cy="234.2" r="0.7" fill="#000"/>
<circle cx="454.1" cy="238.6" r="1.05" fill="#0f0"/>
<circle cx="472.5" cy="223.6" r="1.15" fill="#f00"/><circle cx="472.5" cy="223.6" r="0.7" fill="#000"/>
<circle cx="473.7" cy="204.5" r="1.15" fill="#f00"/><circle cx="473.7" cy="204.5" r="0.7" fill="#000"/>
<circle cx="471.0" cy="240.2" r="1.15" fill="#f00"/><circle cx="471.0" cy="240.2" r="0.7" fill="#000"/>
<text transform="translate(467.30,294.20) scale(0.1060,0.1)" font-size="97.0" text-anchor="middle" class="cp"><tspan>(f)</tspan> t=40s</text>
</g>
<g id="p6">
<line x1="18.30" y1="382.40" x2="91.50" y2="362.50" stroke="#ebebeb" stroke-width="0.5"/>
<line x1="91.50" y1="362.50" x2="147.60" y2="388.50" stroke="#ebebeb" stroke-width="0.5"/>
<line x1="18.30" y1="371.26" x2="91.50" y2="351.60" stroke="#ebebeb" stroke-width="0.5"/>
<line x1="91.50" y1="351.60" x2="147.60" y2="377.34" stroke="#ebebeb" stroke-width="0.5"/>
<line x1="18.30" y1="360.12" x2="91.50" y2="340.70" stroke="#ebebeb" stroke-width="0.5"/>
<line x1="91.50" y1="340.70" x2="147.60" y2="366.18" stroke="#ebebeb" stroke-width="0.5"/>
<line x1="18.30" y1="348.98" x2="91.50" y2="329.80" stroke="#ebebeb" stroke-width="0.5"/>
<line x1="91.50" y1="329.80" x2="147.60" y2="355.02" stroke="#ebebeb" stroke-width="0.5"/>
<line x1="18.30" y1="337.84" x2="91.50" y2="318.90" stroke="#ebebeb" stroke-width="0.5"/>
<line x1="91.50" y1="318.90" x2="147.60" y2="343.86" stroke="#ebebeb" stroke-width="0.5"/>
<line x1="18.30" y1="326.70" x2="91.50" y2="308.00" stroke="#ebebeb" stroke-width="0.5"/>
<line x1="91.50" y1="308.00" x2="147.60" y2="332.70" stroke="#ebebeb" stroke-width="0.5"/>
<line x1="24.95" y1="380.59" x2="24.95" y2="325.00" stroke="#ebebeb" stroke-width="0.5"/>
<line x1="24.95" y1="380.59" x2="81.15" y2="406.50" stroke="#ebebeb" stroke-width="0.5"/>
<line x1="58.23" y1="371.55" x2="58.23" y2="316.50" stroke="#ebebeb" stroke-width="0.5"/>
<line x1="58.23" y1="371.55" x2="114.37" y2="397.50" stroke="#ebebeb" stroke-width="0.5"/>
<line x1="91.50" y1="362.50" x2="91.50" y2="308.00" stroke="#ebebeb" stroke-width="0.5"/>
<line x1="91.50" y1="362.50" x2="147.60" y2="388.50" stroke="#ebebeb" stroke-width="0.5"/>
<line x1="147.60" y1="388.50" x2="147.60" y2="332.70" stroke="#ebebeb" stroke-width="0.5"/>
<line x1="74.50" y1="408.30" x2="147.60" y2="388.50" stroke="#ebebeb" stroke-width="0.5"/>
<line x1="119.55" y1="375.50" x2="119.55" y2="320.35" stroke="#ebebeb" stroke-width="0.5"/>
<line x1="46.40" y1="395.35" x2="119.55" y2="375.50" stroke="#ebebeb" stroke-width="0.5"/>
<line x1="91.50" y1="362.50" x2="91.50" y2="308.00" stroke="#ebebeb" stroke-width="0.5"/>
<line x1="18.30" y1="382.40" x2="91.50" y2="362.50" stroke="#ebebeb" stroke-width="0.5"/>
<line x1="18.30" y1="382.40" x2="18.30" y2="326.70" stroke="#949494" stroke-width="0.5"/>
<line x1="18.30" y1="382.40" x2="74.50" y2="408.30" stroke="#949494" stroke-width="0.5"/>
<line x1="74.50" y1="408.30" x2="147.60" y2="388.50" stroke="#949494" stroke-width="0.5"/>
<line x1="18.30" y1="382.40" x2="16.40" y2="381.90" stroke="#949494" stroke-width="0.5"/>
<text transform="translate(14.80,383.15) scale(0.1000,0.1)" font-size="43.0" text-anchor="end" class="tk">0</text>
<line x1="18.30" y1="371.26" x2="16.40" y2="370.76" stroke="#949494" stroke-width="0.5"/>
<text transform="translate(14.80,372.01) scale(0.1000,0.1)" font-size="43.0" text-anchor="end" class="tk">2</text>
<line x1="18.30" y1="360.12" x2="16.40" y2="359.62" stroke="#949494" stroke-width="0.5"/>
<text transform="translate(14.80,360.87) scale(0.1000,0.1)" font-size="43.0" text-anchor="end" class="tk">4</text>
<line x1="18.30" y1="348.98" x2="16.40" y2="348.48" stroke="#949494" stroke-width="0.5"/>
<text transform="translate(14.80,349.73) scale(0.1000,0.1)" font-size="43.0" text-anchor="end" class="tk">6</text>
<line x1="18.30" y1="337.84" x2="16.40" y2="337.34" stroke="#949494" stroke-width="0.5"/>
<text transform="translate(14.80,338.59) scale(0.1000,0.1)" font-size="43.0" text-anchor="end" class="tk">8</text>
<line x1="18.30" y1="326.70" x2="16.40" y2="326.20" stroke="#949494" stroke-width="0.5"/>
<text transform="translate(14.80,327.45) scale(0.1000,0.1)" font-size="43.0" text-anchor="end" class="tk">10</text>
<line x1="18.30" y1="382.40" x2="16.30" y2="382.95" stroke="#949494" stroke-width="0.5"/>
<text transform="translate(14.90,387.70) scale(0.1000,0.1)" font-size="43.0" text-anchor="end" class="tk">10</text>
<line x1="46.40" y1="395.35" x2="44.40" y2="395.90" stroke="#949494" stroke-width="0.5"/>
<text transform="translate(43.00,400.65) scale(0.1000,0.1)" font-size="43.0" text-anchor="end" class="tk">5</text>
<line x1="74.50" y1="408.30" x2="72.50" y2="408.85" stroke="#949494" stroke-width="0.5"/>
<text transform="translate(71.10,413.60) scale(0.1000,0.1)" font-size="43.0" text-anchor="end" class="tk">0</text>
<line x1="81.15" y1="406.50" x2="82.95" y2="407.35" stroke="#949494" stroke-width="0.5"/>
<text transform="translate(83.95,412.40) scale(0.1000,0.1)" font-size="43.0" text-anchor="start" class="tk">0</text>
<line x1="114.37" y1="397.50" x2="116.17" y2="398.35" stroke="#949494" stroke-width="0.5"/>
<text transform="translate(117.17,403.40) scale(0.1000,0.1)" font-size="43.0" text-anchor="start" class="tk">50</text>
<line x1="147.60" y1="388.50" x2="149.40" y2="389.35" stroke="#949494" stroke-width="0.5"/>
<text transform="translate(150.40,394.40) scale(0.1000,0.1)" font-size="43.0" text-anchor="start" class="tk">100</text>
<text transform="translate(41.50,413.10) scale(0.1000,0.1)" font-size="47.5" text-anchor="middle" class="tk">y (m)</text>
<text transform="translate(113.60,414.20) scale(0.1000,0.1)" font-size="47.5" text-anchor="middle" class="tk">x (m)</text>
<text transform="translate(6.60,355.10) rotate(-90) scale(0.1000,0.1)" font-size="47.5" text-anchor="middle" class="tk">z (m)</text>
<clipPath id="u6"><polygon points="37.60,322.10 51.65,328.45 51.65,355.60 79.75,368.30 79.75,341.15 93.80,347.50 93.80,401.80 37.60,376.40"/></clipPath>
<g clip-path="url(#u6)">
<polygon points="37.60,322.10 51.65,328.45 51.65,347.00 37.60,342.40" fill="rgb(240,15,255)" stroke="#000" stroke-opacity="0.55" stroke-width="0.4" stroke-linejoin="round"/>
<polygon points="37.60,342.40 51.65,347.00 51.65,355.60 57.00,358.02 53.50,370.50 37.60,376.40" fill="rgb(126,129,255)" stroke="#000" stroke-opacity="0.55" stroke-width="0.4" stroke-linejoin="round"/>
<polygon points="37.60,376.40 53.50,370.50 74.50,379.90 75.50,393.53" fill="rgb(88,167,255)" stroke="#000" stroke-opacity="0.55" stroke-width="0.4" stroke-linejoin="round"/>
<polygon points="57.00,358.02 75.10,366.20 77.00,377.40 74.50,379.90 53.50,370.50" fill="rgb(183,72,255)" stroke="#000" stroke-opacity="0.55" stroke-width="0.4" stroke-linejoin="round"/>
<polygon points="75.10,366.20 79.75,368.30 79.75,360.10 93.80,366.50 93.80,384.90 77.00,377.40" fill="rgb(156,99,255)" stroke="#000" stroke-opacity="0.55" stroke-width="0.4" stroke-linejoin="round"/>
<polygon points="79.75,360.10 79.75,341.15 93.80,347.50 93.80,366.50" fill="rgb(240,15,255)" stroke="#000" stroke-opacity="0.55" stroke-width="0.4" stroke-linejoin="round"/>
<polygon points="77.00,377.40 93.80,384.90 93.80,401.80 75.50,393.53 74.50,379.90" fill="rgb(69,186,255)" stroke="#000" stroke-opacity="0.55" stroke-width="0.4" stroke-linejoin="round"/>
</g>
<polygon points="37.60,322.10 51.65,328.45 51.65,355.60 79.75,368.30 79.75,341.15 93.80,347.50 93.80,401.80 37.60,376.40" fill="none" stroke="#000" stroke-opacity="0.55" stroke-width="0.4" stroke-linejoin="round"/>
<circle cx="44.2" cy="334.9" r="1.15" fill="#f00"/><circle cx="44.2" cy="334.9" r="0.7" fill="#000"/>
<circle cx="45.4" cy="354.9" r="0.9" fill="none" stroke="#f00" stroke-width="0.9"/>
<circle cx="44.9" cy="360.2" r="0.8" fill="#000"/>
<circle cx="46.6" cy="373.0" r="1.05" fill="#0f0"/>
<circle cx="65.1" cy="369.9" r="1.15" fill="#f00"/><circle cx="65.1" cy="369.9" r="0.7" fill="#000"/>
<circle cx="59.7" cy="381.5" r="0.8" fill="#000"/>
<circle cx="64.9" cy="383.4" r="0.9" fill="none" stroke="#f00" stroke-width="0.9"/>
<circle cx="66.7" cy="388.2" r="1.05" fill="#0f0"/>
<circle cx="85.5" cy="373.0" r="1.15" fill="#f00"/><circle cx="85.5" cy="373.0" r="0.7" fill="#000"/>
<circle cx="86.4" cy="354.0" r="1.15" fill="#f00"/><circle cx="86.4" cy="354.0" r="0.7" fill="#000"/>
<circle cx="83.9" cy="389.9" r="1.15" fill="#f00"/><circle cx="83.9" cy="389.9" r="0.7" fill="#000"/>
<text transform="translate(80.00,442.60) scale(0.1060,0.1)" font-size="97.0" text-anchor="middle" class="cp"><tspan>(g)</tspan> t=41s</text>
</g>
<g id="p7">
<line x1="212.20" y1="382.40" x2="285.40" y2="362.50" stroke="#ebebeb" stroke-width="0.5"/>
<line x1="285.40" y1="362.50" x2="341.50" y2="388.50" stroke="#ebebeb" stroke-width="0.5"/>
<line x1="212.20" y1="371.26" x2="285.40" y2="351.60" stroke="#ebebeb" stroke-width="0.5"/>
<line x1="285.40" y1="351.60" x2="341.50" y2="377.34" stroke="#ebebeb" stroke-width="0.5"/>
<line x1="212.20" y1="360.12" x2="285.40" y2="340.70" stroke="#ebebeb" stroke-width="0.5"/>
<line x1="285.40" y1="340.70" x2="341.50" y2="366.18" stroke="#ebebeb" stroke-width="0.5"/>
<line x1="212.20" y1="348.98" x2="285.40" y2="329.80" stroke="#ebebeb" stroke-width="0.5"/>
<line x1="285.40" y1="329.80" x2="341.50" y2="355.02" stroke="#ebebeb" stroke-width="0.5"/>
<line x1="212.20" y1="337.84" x2="285.40" y2="318.90" stroke="#ebebeb" stroke-width="0.5"/>
<line x1="285.40" y1="318.90" x2="341.50" y2="343.86" stroke="#ebebeb" stroke-width="0.5"/>
<line x1="212.20" y1="326.70" x2="285.40" y2="308.00" stroke="#ebebeb" stroke-width="0.5"/>
<line x1="285.40" y1="308.00" x2="341.50" y2="332.70" stroke="#ebebeb" stroke-width="0.5"/>
<line x1="218.85" y1="380.59" x2="218.85" y2="325.00" stroke="#ebebeb" stroke-width="0.5"/>
<line x1="218.85" y1="380.59" x2="275.05" y2="406.50" stroke="#ebebeb" stroke-width="0.5"/>
<line x1="252.13" y1="371.55" x2="252.13" y2="316.50" stroke="#ebebeb" stroke-width="0.5"/>
<line x1="252.13" y1="371.55" x2="308.27" y2="397.50" stroke="#ebebeb" stroke-width="0.5"/>
<line x1="285.40" y1="362.50" x2="285.40" y2="308.00" stroke="#ebebeb" stroke-width="0.5"/>
<line x1="285.40" y1="362.50" x2="341.50" y2="388.50" stroke="#ebebeb" stroke-width="0.5"/>
<line x1="341.50" y1="388.50" x2="341.50" y2="332.70" stroke="#ebebeb" stroke-width="0.5"/>
<line x1="268.40" y1="408.30" x2="341.50" y2="388.50" stroke="#ebebeb" stroke-width="0.5"/>
<line x1="313.45" y1="375.50" x2="313.45" y2="320.35" stroke="#ebebeb" stroke-width="0.5"/>
<line x1="240.30" y1="395.35" x2="313.45" y2="375.50" stroke="#ebebeb" stroke-width="0.5"/>
<line x1="285.40" y1="362.50" x2="285.40" y2="308.00" stroke="#ebebeb" stroke-width="0.5"/>
<line x1="212.20" y1="382.40" x2="285.40" y2="362.50" stroke="#ebebeb" stroke-width="0.5"/>
<line x1="212.20" y1="382.40" x2="212.20" y2="326.70" stroke="#949494" stroke-width="0.5"/>
<line x1="212.20" y1="382.40" x2="268.40" y2="408.30" stroke="#949494" stroke-width="0.5"/>
<line x1="268.40" y1="408.30" x2="341.50" y2="388.50" stroke="#949494" stroke-width="0.5"/>
<line x1="212.20" y1="382.40" x2="210.30" y2="381.90" stroke="#949494" stroke-width="0.5"/>
<text transform="translate(208.70,383.15) scale(0.1000,0.1)" font-size="43.0" text-anchor="end" class="tk">0</text>
<line x1="212.20" y1="371.26" x2="210.30" y2="370.76" stroke="#949494" stroke-width="0.5"/>
<text transform="translate(208.70,372.01) scale(0.1000,0.1)" font-size="43.0" text-anchor="end" class="tk">2</text>
<line x1="212.20" y1="360.12" x2="210.30" y2="359.62" stroke="#949494" stroke-width="0.5"/>
<text transform="translate(208.70,360.87) scale(0.1000,0.1)" font-size="43.0" text-anchor="end" class="tk">4</text>
<line x1="212.20" y1="348.98" x2="210.30" y2="348.48" stroke="#949494" stroke-width="0.5"/>
<text transform="translate(208.70,349.73) scale(0.1000,0.1)" font-size="43.0" text-anchor="end" class="tk">6</text>
<line x1="212.20" y1="337.84" x2="210.30" y2="337.34" stroke="#949494" stroke-width="0.5"/>
<text transform="translate(208.70,338.59) scale(0.1000,0.1)" font-size="43.0" text-anchor="end" class="tk">8</text>
<line x1="212.20" y1="326.70" x2="210.30" y2="326.20" stroke="#949494" stroke-width="0.5"/>
<text transform="translate(208.70,327.45) scale(0.1000,0.1)" font-size="43.0" text-anchor="end" class="tk">10</text>
<line x1="212.20" y1="382.40" x2="210.20" y2="382.95" stroke="#949494" stroke-width="0.5"/>
<text transform="translate(208.80,387.70) scale(0.1000,0.1)" font-size="43.0" text-anchor="end" class="tk">10</text>
<line x1="240.30" y1="395.35" x2="238.30" y2="395.90" stroke="#949494" stroke-width="0.5"/>
<text transform="translate(236.90,400.65) scale(0.1000,0.1)" font-size="43.0" text-anchor="end" class="tk">5</text>
<line x1="268.40" y1="408.30" x2="266.40" y2="408.85" stroke="#949494" stroke-width="0.5"/>
<text transform="translate(265.00,413.60) scale(0.1000,0.1)" font-size="43.0" text-anchor="end" class="tk">0</text>
<line x1="275.05" y1="406.50" x2="276.85" y2="407.35" stroke="#949494" stroke-width="0.5"/>
<text transform="translate(277.85,412.40) scale(0.1000,0.1)" font-size="43.0" text-anchor="start" class="tk">0</text>
<line x1="308.27" y1="397.50" x2="310.07" y2="398.35" stroke="#949494" stroke-width="0.5"/>
<text transform="translate(311.07,403.40) scale(0.1000,0.1)" font-size="43.0" text-anchor="start" class="tk">50</text>
<line x1="341.50" y1="388.50" x2="343.30" y2="389.35" stroke="#949494" stroke-width="0.5"/>
<text transform="translate(344.30,394.40) scale(0.1000,0.1)" font-size="43.0" text-anchor="start" class="tk">100</text>
<text transform="translate(235.40,413.10) scale(0.1000,0.1)" font-size="47.5" text-anchor="middle" class="tk">y (m)</text>
<text transform="translate(307.50,414.20) scale(0.1000,0.1)" font-size="47.5" text-anchor="middle" class="tk">x (m)</text>
<text transform="translate(200.50,355.10) rotate(-90) scale(0.1000,0.1)" font-size="47.5" text-anchor="middle" class="tk">z (m)</text>
<clipPath id="u7"><polygon points="237.90,320.40 251.95,326.75 251.95,353.90 280.05,366.60 280.05,339.45 294.10,345.80 294.10,400.10 237.90,374.70"/></clipPath>
<g clip-path="url(#u7)">
<polygon points="237.90,320.40 251.95,326.75 251.95,345.80 237.90,341.60" fill="rgb(240,15,255)" stroke="#000" stroke-opacity="0.55" stroke-width="0.4" stroke-linejoin="round"/>
<polygon points="237.90,341.60 251.95,345.80 251.95,353.90 260.20,357.63 255.50,366.00 237.90,359.80" fill="rgb(126,129,255)" stroke="#000" stroke-opacity="0.55" stroke-width="0.4" stroke-linejoin="round"/>
<polygon points="237.90,359.80 255.50,366.00 261.00,385.14 237.90,374.70" fill="rgb(88,167,255)" stroke="#000" stroke-opacity="0.55" stroke-width="0.4" stroke-linejoin="round"/>
<polygon points="260.20,357.63 271.75,362.85 276.75,376.00 270.75,389.55 261.00,385.14 255.50,366.00" fill="rgb(190,65,255)" stroke="#000" stroke-opacity="0.55" stroke-width="0.4" stroke-linejoin="round"/>
<polygon points="271.75,362.85 280.05,366.60 280.05,358.50 294.10,365.40 294.10,384.75 276.75,376.00" fill="rgb(156,99,255)" stroke="#000" stroke-opacity="0.55" stroke-width="0.4" stroke-linejoin="round"/>
<polygon points="280.05,358.50 280.05,339.45 294.10,345.80 294.10,365.40" fill="rgb(240,15,255)" stroke="#000" stroke-opacity="0.55" stroke-width="0.4" stroke-linejoin="round"/>
<polygon points="276.75,376.00 294.10,384.75 294.10,400.10 270.75,389.55" fill="rgb(69,186,255)" stroke="#000" stroke-opacity="0.55" stroke-width="0.4" stroke-linejoin="round"/>
</g>
<polygon points="237.90,320.40 251.95,326.75 251.95,353.90 280.05,366.60 280.05,339.45 294.10,345.80 294.10,400.10 237.90,374.70" fill="none" stroke="#000" stroke-opacity="0.55" stroke-width="0.4" stroke-linejoin="round"/>
<circle cx="244.2" cy="333.9" r="1.15" fill="#f00"/><circle cx="244.2" cy="333.9" r="0.7" fill="#000"/>
<circle cx="246.4" cy="354.7" r="1.15" fill="#f00"/><circle cx="246.4" cy="354.7" r="0.7" fill="#000"/>
<circle cx="247.6" cy="372.6" r="1.15" fill="#f00"/><circle cx="247.6" cy="372.6" r="0.7" fill="#000"/>
<circle cx="240.5" cy="372.9" r="1.05" fill="#0f0"/>
<circle cx="265.4" cy="374.1" r="1.15" fill="#f00"/><circle cx="265.4" cy="374.1" r="0.7" fill="#000"/>
<circle cx="260.5" cy="388.7" r="1.05" fill="#0f0"/>
<circle cx="284.5" cy="371.9" r="1.15" fill="#f00"/><circle cx="284.5" cy="371.9" r="0.7" fill="#000"/>
<circle cx="286.6" cy="352.9" r="1.15" fill="#f00"/><circle cx="286.6" cy="352.9" r="0.7" fill="#000"/>
<circle cx="283.0" cy="388.7" r="1.15" fill="#f00"/><circle cx="283.0" cy="388.7" r="0.7" fill="#000"/>
<text transform="translate(273.70,442.60) scale(0.1060,0.1)" font-size="97.0" text-anchor="middle" class="cp"><tspan>(h)</tspan> t=60s</text>
</g>
<g id="p8">
<line x1="405.90" y1="382.40" x2="479.10" y2="362.50" stroke="#ebebeb" stroke-width="0.5"/>
<line x1="479.10" y1="362.50" x2="535.20" y2="388.50" stroke="#ebebeb" stroke-width="0.5"/>
<line x1="405.90" y1="371.26" x2="479.10" y2="351.60" stroke="#ebebeb" stroke-width="0.5"/>
<line x1="479.10" y1="351.60" x2="535.20" y2="377.34" stroke="#ebebeb" stroke-width="0.5"/>
<line x1="405.90" y1="360.12" x2="479.10" y2="340.70" stroke="#ebebeb" stroke-width="0.5"/>
<line x1="479.10" y1="340.70" x2="535.20" y2="366.18" stroke="#ebebeb" stroke-width="0.5"/>
<line x1="405.90" y1="348.98" x2="479.10" y2="329.80" stroke="#ebebeb" stroke-width="0.5"/>
<line x1="479.10" y1="329.80" x2="535.20" y2="355.02" stroke="#ebebeb" stroke-width="0.5"/>
<line x1="405.90" y1="337.84" x2="479.10" y2="318.90" stroke="#ebebeb" stroke-width="0.5"/>
<line x1="479.10" y1="318.90" x2="535.20" y2="343.86" stroke="#ebebeb" stroke-width="0.5"/>
<line x1="405.90" y1="326.70" x2="479.10" y2="308.00" stroke="#ebebeb" stroke-width="0.5"/>
<line x1="479.10" y1="308.00" x2="535.20" y2="332.70" stroke="#ebebeb" stroke-width="0.5"/>
<line x1="412.55" y1="380.59" x2="412.55" y2="325.00" stroke="#ebebeb" stroke-width="0.5"/>
<line x1="412.55" y1="380.59" x2="468.75" y2="406.50" stroke="#ebebeb" stroke-width="0.5"/>
<line x1="445.83" y1="371.55" x2="445.83" y2="316.50" stroke="#ebebeb" stroke-width="0.5"/>
<line x1="445.83" y1="371.55" x2="501.97" y2="397.50" stroke="#ebebeb" stroke-width="0.5"/>
<line x1="479.10" y1="362.50" x2="479.10" y2="308.00" stroke="#ebebeb" stroke-width="0.5"/>
<line x1="479.10" y1="362.50" x2="535.20" y2="388.50" stroke="#ebebeb" stroke-width="0.5"/>
<line x1="535.20" y1="388.50" x2="535.20" y2="332.70" stroke="#ebebeb" stroke-width="0.5"/>
<line x1="462.10" y1="408.30" x2="535.20" y2="388.50" stroke="#ebebeb" stroke-width="0.5"/>
<line x1="507.15" y1="375.50" x2="507.15" y2="320.35" stroke="#ebebeb" stroke-width="0.5"/>
<line x1="434.00" y1="395.35" x2="507.15" y2="375.50" stroke="#ebebeb" stroke-width="0.5"/>
<line x1="479.10" y1="362.50" x2="479.10" y2="308.00" stroke="#ebebeb" stroke-width="0.5"/>
<line x1="405.90" y1="382.40" x2="479.10" y2="362.50" stroke="#ebebeb" stroke-width="0.5"/>
<line x1="405.90" y1="382.40" x2="405.90" y2="326.70" stroke="#949494" stroke-width="0.5"/>
<line x1="405.90" y1="382.40" x2="462.10" y2="408.30" stroke="#949494" stroke-width="0.5"/>
<line x1="462.10" y1="408.30" x2="535.20" y2="388.50" stroke="#949494" stroke-width="0.5"/>
<line x1="405.90" y1="382.40" x2="404.00" y2="381.90" stroke="#949494" stroke-width="0.5"/>
<text transform="translate(402.40,383.15) scale(0.1000,0.1)" font-size="43.0" text-anchor="end" class="tk">0</text>
<line x1="405.90" y1="371.26" x2="404.00" y2="370.76" stroke="#949494" stroke-width="0.5"/>
<text transform="translate(402.40,372.01) scale(0.1000,0.1)" font-size="43.0" text-anchor="end" class="tk">2</text>
<line x1="405.90" y1="360.12" x2="404.00" y2="359.62" stroke="#949494" stroke-width="0.5"/>
<text transform="translate(402.40,360.87) scale(0.1000,0.1)" font-size="43.0" text-anchor="end" class="tk">4</text>
<line x1="405.90" y1="348.98" x2="404.00" y2="348.48" stroke="#949494" stroke-width="0.5"/>
<text transform="translate(402.40,349.73) scale(0.1000,0.1)" font-size="43.0" text-anchor="end" class="tk">6</text>
<line x1="405.90" y1="337.84" x2="404.00" y2="337.34" stroke="#949494" stroke-width="0.5"/>
<text transform="translate(402.40,338.59) scale(0.1000,0.1)" font-size="43.0" text-anchor="end" class="tk">8</text>
<line x1="405.90" y1="326.70" x2="404.00" y2="326.20" stroke="#949494" stroke-width="0.5"/>
<text transform="translate(402.40,327.45) scale(0.1000,0.1)" font-size="43.0" text-anchor="end" class="tk">10</text>
<line x1="405.90" y1="382.40" x2="403.90" y2="382.95" stroke="#949494" stroke-width="0.5"/>
<text transform="translate(402.50,387.70) scale(0.1000,0.1)" font-size="43.0" text-anchor="end" class="tk">10</text>
<line x1="434.00" y1="395.35" x2="432.00" y2="395.90" stroke="#949494" stroke-width="0.5"/>
<text transform="translate(430.60,400.65) scale(0.1000,0.1)" font-size="43.0" text-anchor="end" class="tk">5</text>
<line x1="462.10" y1="408.30" x2="460.10" y2="408.85" stroke="#949494" stroke-width="0.5"/>
<text transform="translate(458.70,413.60) scale(0.1000,0.1)" font-size="43.0" text-anchor="end" class="tk">0</text>
<line x1="468.75" y1="406.50" x2="470.55" y2="407.35" stroke="#949494" stroke-width="0.5"/>
<text transform="translate(471.55,412.40) scale(0.1000,0.1)" font-size="43.0" text-anchor="start" class="tk">0</text>
<line x1="501.97" y1="397.50" x2="503.77" y2="398.35" stroke="#949494" stroke-width="0.5"/>
<text transform="translate(504.77,403.40) scale(0.1000,0.1)" font-size="43.0" text-anchor="start" class="tk">50</text>
<line x1="535.20" y1="388.50" x2="537.00" y2="389.35" stroke="#949494" stroke-width="0.5"/>
<text transform="translate(538.00,394.40) scale(0.1000,0.1)" font-size="43.0" text-anchor="start" class="tk">100</text>
<text transform="translate(429.10,413.10) scale(0.1000,0.1)" font-size="47.5" text-anchor="middle" class="tk">y (m)</text>
<text transform="translate(501.20,414.20) scale(0.1000,0.1)" font-size="47.5" text-anchor="middle" class="tk">x (m)</text>
<text transform="translate(394.20,355.10) rotate(-90) scale(0.1000,0.1)" font-size="47.5" text-anchor="middle" class="tk">z (m)</text>
<clipPath id="u8"><polygon points="432.00,320.40 446.05,326.75 446.05,353.90 474.15,366.60 474.15,339.45 488.20,345.80 488.20,400.10 432.00,374.70"/></clipPath>
<g clip-path="url(#u8)">
<polygon points="432.00,320.40 446.05,326.75 446.05,345.80 432.00,341.60" fill="rgb(240,15,255)" stroke="#000" stroke-opacity="0.55" stroke-width="0.4" stroke-linejoin="round"/>
<polygon points="432.00,341.60 446.05,345.80 446.05,353.90 454.60,357.77 449.50,365.90 432.00,359.90" fill="rgb(126,129,255)" stroke="#000" stroke-opacity="0.55" stroke-width="0.4" stroke-linejoin="round"/>
<polygon points="432.00,359.90 449.50,365.90 455.00,385.10 432.00,374.70" fill="rgb(88,167,255)" stroke="#000" stroke-opacity="0.55" stroke-width="0.4" stroke-linejoin="round"/>
<polygon points="454.60,357.77 465.75,362.80 481.00,396.85 455.00,385.10 449.50,365.90" fill="rgb(183,72,255)" stroke="#000" stroke-opacity="0.55" stroke-width="0.4" stroke-linejoin="round"/>
<polygon points="465.75,362.80 474.15,366.60 474.15,358.50 488.20,366.00 488.20,400.10 481.00,396.85" fill="rgb(156,99,255)" stroke="#000" stroke-opacity="0.55" stroke-width="0.4" stroke-linejoin="round"/>
<polygon points="474.15,358.50 474.15,339.45 488.20,345.80 488.20,366.00" fill="rgb(240,15,255)" stroke="#000" stroke-opacity="0.55" stroke-width="0.4" stroke-linejoin="round"/>
</g>
<polygon points="432.00,320.40 446.05,326.75 446.05,353.90 474.15,366.60 474.15,339.45 488.20,345.80 488.20,400.10 432.00,374.70" fill="none" stroke="#000" stroke-opacity="0.55" stroke-width="0.4" stroke-linejoin="round"/>
<circle cx="438.5" cy="333.9" r="1.15" fill="#f00"/><circle cx="438.5" cy="333.9" r="0.7" fill="#000"/>
<circle cx="440.6" cy="354.7" r="1.15" fill="#f00"/><circle cx="440.6" cy="354.7" r="0.7" fill="#000"/>
<circle cx="441.9" cy="372.6" r="1.15" fill="#f00"/><circle cx="441.9" cy="372.6" r="0.7" fill="#000"/>
<circle cx="434.4" cy="372.9" r="1.05" fill="#0f0"/>
<circle cx="459.4" cy="374.1" r="0.9" fill="none" stroke="#f00" stroke-width="0.9"/>
<circle cx="462.9" cy="377.6" r="0.8" fill="#000"/>
<circle cx="454.5" cy="388.7" r="1.05" fill="#0f0"/>
<circle cx="478.5" cy="371.9" r="0.9" fill="none" stroke="#f00" stroke-width="0.9"/>
<circle cx="479.7" cy="378.5" r="0.8" fill="#000"/>
<circle cx="477.5" cy="389.1" r="1.05" fill="#0f0"/>
<circle cx="480.6" cy="352.9" r="1.15" fill="#f00"/><circle cx="480.6" cy="352.9" r="0.7" fill="#000"/>
<text transform="translate(467.30,442.60) scale(0.1060,0.1)" font-size="97.0" text-anchor="middle" class="cp"><tspan>(i)</tspan> t=61s</text>
</g>
</svg></body></html>
